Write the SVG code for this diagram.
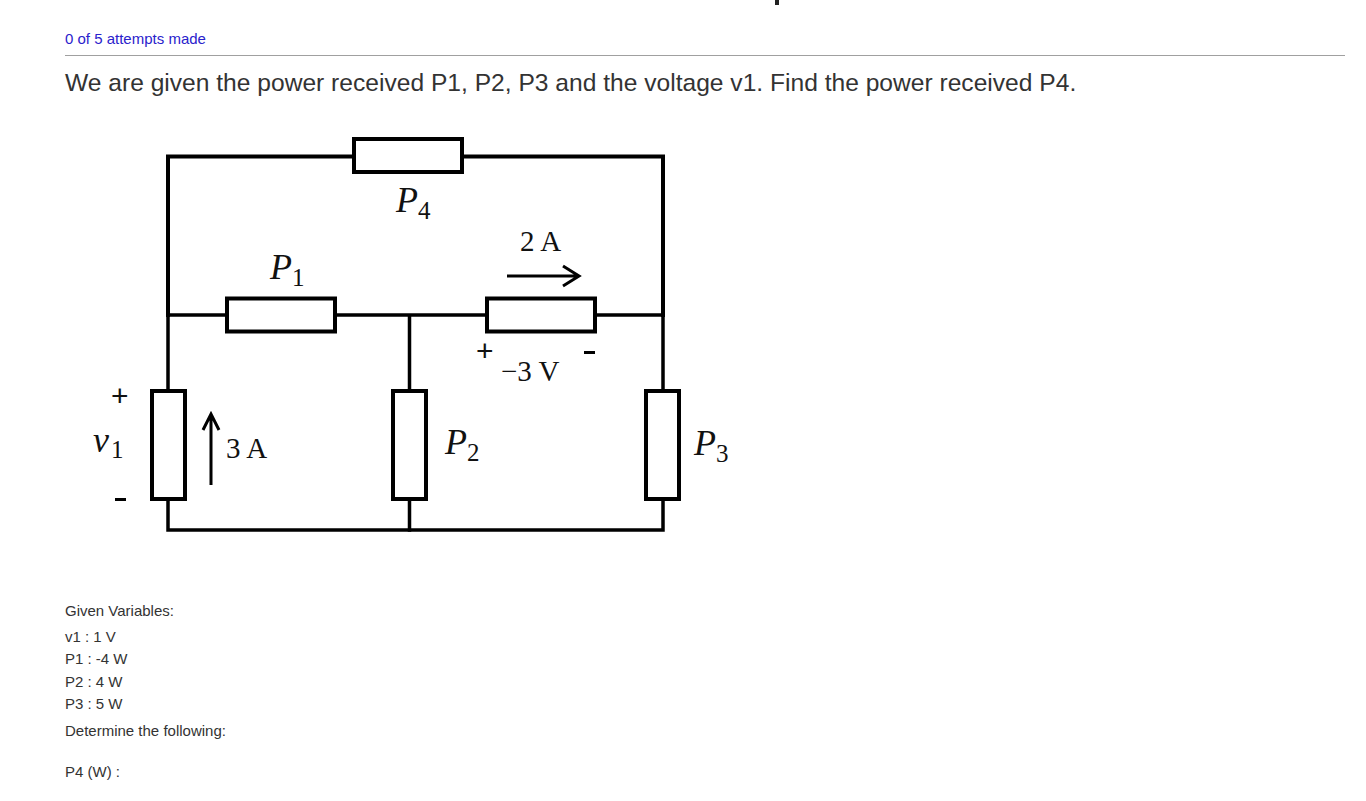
<svg xmlns="http://www.w3.org/2000/svg" width="1366" height="801" viewBox="0 0 1366 801">
<style>
.ui{font-family:"Liberation Sans",Arial,sans-serif;fill:#333}
.s{font-size:15px}
.w{fill:none;stroke:#000;stroke-width:3.5;stroke-linecap:square}
.t{fill:none;stroke:#000;stroke-width:4;stroke-linecap:square}
.r{fill:#fff;stroke:#000;stroke-width:4}
.m{font-family:"Liberation Serif","Times New Roman",serif;fill:#111}
.i{font-style:italic;font-size:36px}
.u{font-size:29px}
.n{font-size:25px}
.p{font-family:"Liberation Sans",Arial,sans-serif;font-size:30px;fill:#111}
.a{fill:none;stroke:#000;stroke-width:3}
</style>
<rect width="1366" height="801" fill="#fff"/>
<rect x="775" y="0" width="4" height="5" fill="#222"/>
<text class="ui s" x="65" y="44" style="fill:#2a22cc">0 of 5 attempts made</text>
<rect x="65" y="55" width="1280" height="1" fill="#a0a0a0"/>
<text class="ui" x="65" y="91" font-size="24.6">We are given the power received P1, P2, P3 and the voltage v1. Find the power received P4.</text>
<g id="connectors">
<path class="t" d="M353 156.500H168V315M462 156.500H663V315"/>
<path class="w" d="M168 315V530H663V315"/>
<path class="w" d="M168 315H227M335 315H487M595 315H663M409.500 315V530"/>
<path class="a" d="M507 276H579M563 266L579 276L563 286"/>
<path class="a" d="M211 485V414M203 430L211 414L219 430"/>
</g>
<g id="P4"><rect class="r" x="354" y="139" width="108" height="33"/>
<text class="m i" x="396" y="212">P</text><text class="m n" x="418" y="219">4</text></g>
<g id="P1"><rect class="r" x="227" y="298.500" width="108" height="33"/>
<text class="m i" x="270" y="279">P</text><text class="m n" x="292" y="286">1</text></g>
<g id="R5"><rect class="r" x="487" y="298.500" width="108" height="33"/>
<text class="m u" x="520" y="251">2 A</text>
<text class="p" x="476" y="361">+</text>
<rect x="584" y="351" width="11" height="3" fill="#000"/>
<text class="m u" x="501" y="381">−3 V</text></g>
<g id="V1"><rect class="r" x="152" y="391" width="33" height="108"/>
<text class="p" x="111" y="406">+</text>
<rect x="115" y="498" width="11" height="3" fill="#000"/>
<text class="m i" x="93" y="452">v</text><text class="m n" x="111" y="458">1</text>
<text class="m u" x="226" y="458">3 A</text></g>
<g id="P2"><rect class="r" x="393" y="391" width="33" height="108"/>
<text class="m i" x="445" y="454">P</text><text class="m n" x="467" y="461">2</text></g>
<g id="P3"><rect class="r" x="646" y="391" width="33" height="108"/>
<text class="m i" x="694" y="455">P</text><text class="m n" x="716" y="462">3</text></g>
<text class="ui s" x="65" y="616">Given Variables:</text>
<text class="ui s" x="65" y="642">v1 : 1 V</text>
<text class="ui s" x="65" y="664">P1 : -4 W</text>
<text class="ui s" x="65" y="687">P2 : 4 W</text>
<text class="ui s" x="65" y="709">P3 : 5 W</text>
<text class="ui s" x="65" y="736">Determine the following:</text>
<text class="ui s" x="65" y="777">P4 (W) :</text>
</svg>
